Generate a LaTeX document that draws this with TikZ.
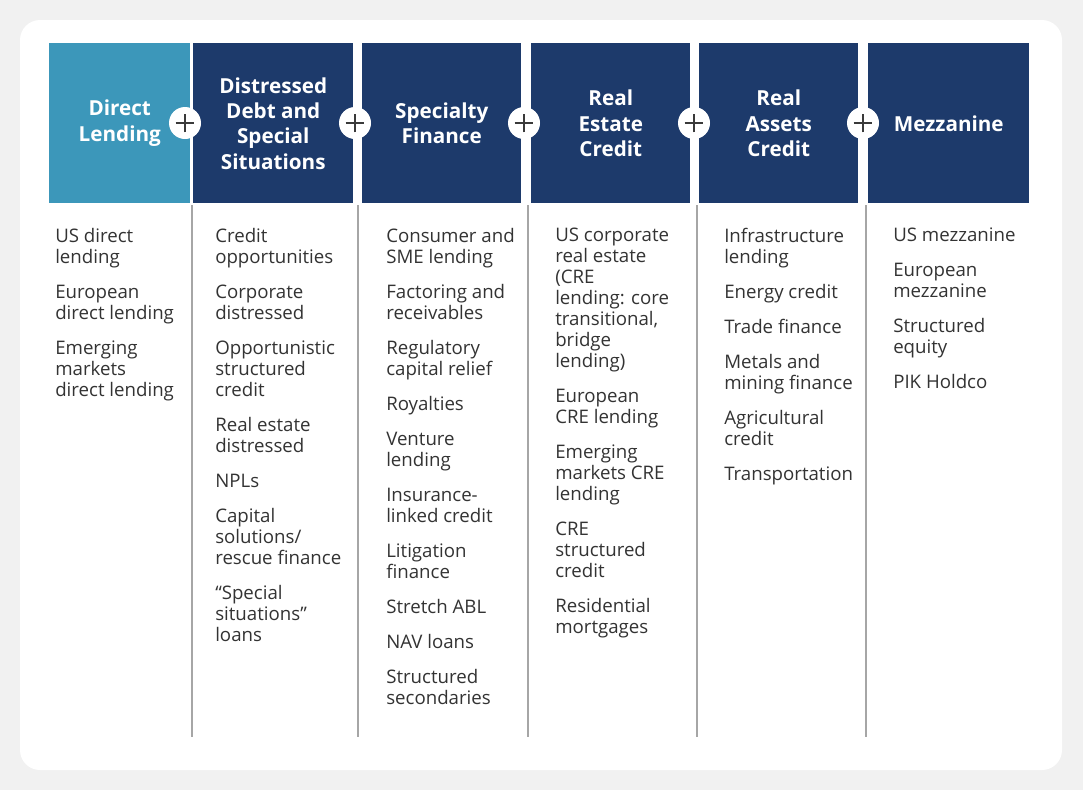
\documentclass[tikz,border=0pt]{standalone}
\usepackage{fontspec}
\setmainfont{Open Sans}
\begin{document}
\begin{tikzpicture}[x=0.75pt,y=-0.75pt,
  hdr/.style={anchor=north west,minimum width=#1*0.75pt,minimum height=120pt,inner sep=0pt,font=\fontsize{15.5}{19}\selectfont\bfseries,text=white,align=center},
  navy/.style={fill=navyc},
  items/.style={anchor=north west,align=left,inner sep=0pt,font=\fontsize{14}{15.75}\selectfont,text=txtc},
  sep/.style={draw=gray!70,line width=0.9pt},
  plus/.style={circle,fill=white,minimum size=24pt,inner sep=0pt,path picture={\draw[plusc,line width=1.3pt] ([xshift=-7pt]path picture bounding box.center)--([xshift=7pt]path picture bounding box.center) ([yshift=-7pt]path picture bounding box.center)--([yshift=7pt]path picture bounding box.center);}}]
\definecolor{navyc}{HTML}{1D3A6B}
\definecolor{bluec}{HTML}{3C97BA}
\definecolor{txtc}{HTML}{333333}
\definecolor{plusc}{HTML}{3A3A3A}
\definecolor{bgc}{HTML}{F1F1F1}
\fill[bgc] (0,0) rectangle (1083,790);
\fill[white,rounded corners=15pt] (20,20) rectangle (1062,770);
\node[hdr=141,fill=bluec] (h1) at (49,43) {Direct\\Lending};
\node[hdr=160,fill=navyc] (h2) at (193,43) {Distressed\\Debt and\\Special\\Situations};
\node[hdr=159,fill=navyc] (h3) at (362,43) {Specialty\\Finance};
\node[hdr=159,fill=navyc] (h4) at (531,43) {Real\\Estate\\Credit};
\node[hdr=159,fill=navyc] (h5) at (699,43) {Real\\Assets\\Credit};
\node[hdr=161,fill=navyc] (h6) at (868,43) {Mezzanine};
\node[plus] (p1) at (185,123) {};
\node[plus] (p2) at (355,123) {};
\node[plus] (p3) at (524,123) {};
\node[plus] (p4) at (694,123) {};
\node[plus] (p5) at (863,123) {};
\foreach \x in {192,358,528,697,866} \draw[sep] (\x,205) -- (\x,737);
\def\g{\\[10.5pt]}
\node[items] (c1) at (55,228) {US direct\\lending\g European\\direct lending\g Emerging\\markets\\direct lending};
\node[items] (c2) at (215,228) {Credit\\opportunities\g Corporate\\distressed\g Opportunistic\\structured\\credit\g Real estate\\distressed\g NPLs\g Capital\\solutions/\\rescue finance\g “Special\\situations”\\loans};
\node[items] (c3) at (386,228) {Consumer and\\SME lending\g Factoring and\\receivables\g Regulatory\\capital relief\g Royalties\g Venture\\lending\g Insurance-\\linked credit\g Litigation\\finance\g Stretch ABL\g NAV loans\g Structured\\secondaries};
\node[items] (c4) at (555,228) {US corporate\\real estate\\(CRE\\lending: core\\transitional,\\bridge\\lending)\g European\\CRE lending\g Emerging\\markets CRE\\lending\g CRE\\structured\\credit\g Residential\\mortgages};
\node[items] (c5) at (724,228) {Infrastructure\\lending\g Energy credit\g Trade finance\g Metals and\\mining finance\g Agricultural\\credit\g Transportation};
\node[items] (c6) at (893,228) {US mezzanine\g European\\mezzanine\g Structured\\equity\g PIK Holdco};
\end{tikzpicture}
\end{document}
